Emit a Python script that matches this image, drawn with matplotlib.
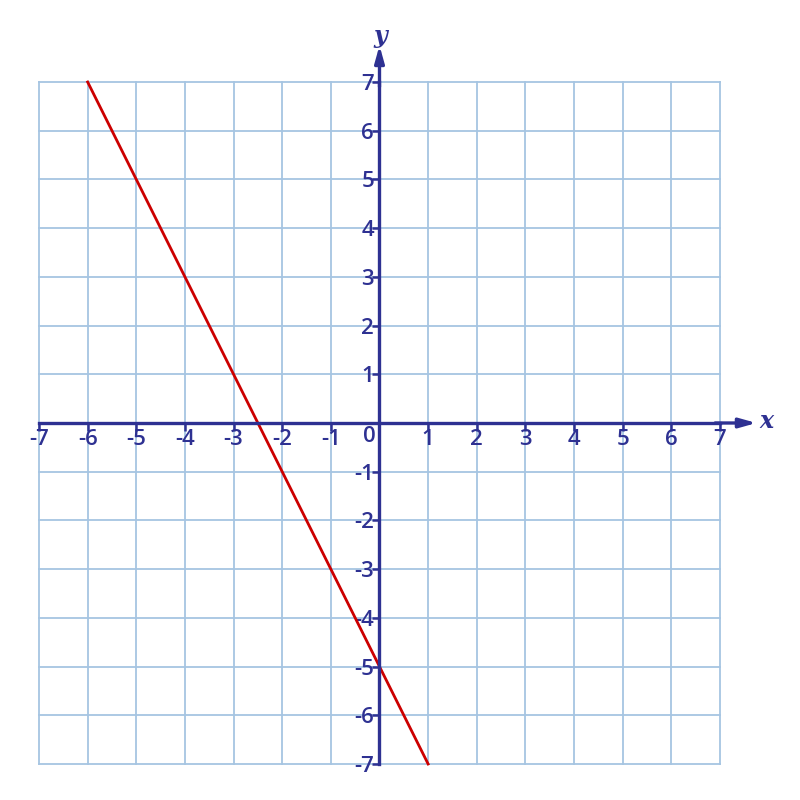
import matplotlib.pyplot as plt
import numpy as np

# line y = -2x - 5, drawn between these endpoints
line_x = [-6, 1]
line_y = [7, -7]
ticks = [-7, -6, -5, -4, -3, -2, -1, 1, 2, 3, 4, 5, 6, 7]

navy = '#2e3192'
grid_c = '#a6c5e2'
plt.rcParams['font.family'] = ['Open Sans', 'DejaVu Sans']
plt.rcParams['font.weight'] = 'semibold'

fig = plt.figure(figsize=(8, 8), dpi=100)
ax = fig.add_axes([39 / 800, 36 / 800, 681 / 800, 682 / 800])
ax.set_xlim(-7, 7)
ax.set_ylim(-7, 7)

for v in range(-7, 8):
    ax.plot([v, v], [-7, 7], color=grid_c, lw=1.3, zorder=1, clip_on=False)
    ax.plot([-7, 7], [v, v], color=grid_c, lw=1.3, zorder=1, clip_on=False)

ax.plot(line_x, line_y, color='#cc0000', lw=2, zorder=3, clip_on=False)

for s in ['top', 'right']:
    ax.spines[s].set_visible(False)
ax.spines['left'].set_position(('data', 0))
ax.spines['bottom'].set_position(('data', 0))
for s in ['left', 'bottom']:
    ax.spines[s].set_color(navy)
    ax.spines[s].set_linewidth(2.4)
    ax.spines[s].set_zorder(4)

ax.set_xticks(ticks)
ax.set_yticks(ticks)
ax.set_xticklabels([str(t) for t in ticks])
ax.set_yticklabels([str(t) for t in ticks])
ax.tick_params(axis='x', direction='out', length=6, width=1.8, color=navy,
               labelcolor=navy, labelsize=16, pad=-2)
ax.tick_params(axis='y', direction='out', length=5, width=1.8, color=navy,
               labelcolor=navy, labelsize=16, pad=-1)
for lab in ax.get_yticklabels():
    lab.set_verticalalignment('center_baseline')

ax.text(-0.2, -0.27, '0', color=navy, fontsize=16, ha='center', va='center')

# axis arrows
ax.annotate('', xy=(7.75, 0), xytext=(6.9, 0),
            arrowprops=dict(arrowstyle='-|>,head_length=1.0,head_width=0.28',
                            color=navy, lw=2.4, shrinkA=0, shrinkB=0), annotation_clip=False)
ax.annotate('', xy=(0, 7.75), xytext=(0, 6.9),
            arrowprops=dict(arrowstyle='-|>,head_length=1.0,head_width=0.28',
                            color=navy, lw=2.4, shrinkA=0, shrinkB=0), annotation_clip=False)
ax.text(7.95, 0.05, 'x', color=navy, fontsize=17, style='italic', weight='bold',
        family='DejaVu Serif', ha='center', va='center')
ax.text(0.02, 7.95, 'y', color=navy, fontsize=17, style='italic', weight='bold',
        family='DejaVu Serif', ha='center', va='center')

fig.savefig('out.png', dpi=100)
